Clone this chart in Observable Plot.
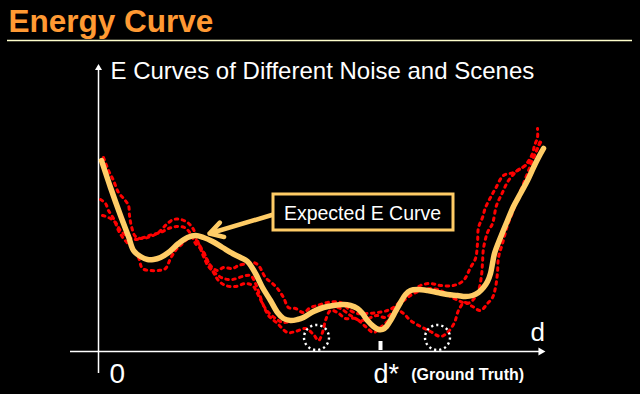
<!DOCTYPE html>
<html>
<head>
<meta charset="utf-8">
<script src="https://cdn.jsdelivr.net/npm/d3@7"></script>
<script src="https://cdn.jsdelivr.net/npm/@observablehq/plot@0.6"></script>
<style>
  html, body { margin: 0; padding: 0; background: #000; }
</style>
</head>
<body>
<script>
// ---- Data (d = disparity position, E = energy) ----
const expectedCurve = [[1,191],[10,164],[20,136],[28,115],[33,101],[40,95],[47,92],[53,92],[60,94],[68,99],[78,108],[87,114],[95,116],[103,114],[112,110],[122,104],[132,98],[140,94],[147,90],[155,78],[162,64],[170,51],[177,39],[183,33],[190,31],[197,32],[203,34],[213,40],[223,44],[233,46],[243,47],[250,46],[257,43],[262,38],[267,31],[273,25],[278,22],[282,22],[286,25],[290,31],[295,40],[300,49],[305,57],[310,61],[317,62],[327,61],[337,59],[347,57],[357,56],[365,55],[372,56],[378,59],[383,64],[387,70],[390,78],[392,88],[394,98],[400,114],[407,131],[413,145],[420,158],[427,171],[433,184],[438,194],[443,203]];

const noisyCurve1 = [[3,194],[8,181],[13,171],[18,159],[24,152],[28,146],[29,136],[31,125],[35,115],[42,113],[50,115],[58,119],[66,127],[73,132],[80,132],[87,129],[93,122],[98,108],[103,95],[108,85],[115,78],[123,73],[132,72],[142,75],[150,76],[155,68],[159,57],[163,46],[168,36],[177,28],[187,19],[195,20],[205,23],[213,17],[218,11],[222,19],[225,31],[230,41],[237,39],[245,33],[255,33],[265,25],[273,19],[280,24],[290,33],[297,41],[303,38],[310,31],[320,25],[330,20],[340,15],[347,19],[354,29],[358,41],[364,49],[372,45],[380,41],[387,48],[392,54],[395,64],[397,79],[398,94],[402,108],[407,126],[412,139],[417,153],[423,168],[430,186],[436,201],[440,211]];

const noisyCurve2 = [[0,152],[5,148],[8,141],[13,133],[18,121],[23,113],[32,103],[38,94],[42,83],[50,81],[58,81],[65,83],[70,93],[75,101],[80,106],[85,111],[92,115],[98,108],[103,99],[110,86],[117,81],[123,84],[132,83],[138,86],[147,88],[153,89],[158,86],[165,74],[172,68],[177,63],[183,54],[188,44],[195,43],[203,39],[210,44],[217,46],[227,49],[240,49],[250,41],[257,38],[267,38],[277,39],[287,41],[293,44],[303,53],[310,58],[320,66],[330,68],[340,66],[353,66],[363,71],[370,84],[375,93],[377,108],[378,124],[382,134],[385,144],[390,154],[395,163],[403,176],[413,179],[422,184],[427,189],[432,198],[434,206],[437,214],[437,223]];

const noisyCurve3 = [[2,136],[8,134],[15,129],[20,121],[27,115],[35,112],[43,114],[52,117],[60,119],[68,123],[76,125],[84,124],[90,118],[95,108],[102,101],[108,89],[113,79],[118,71],[125,66],[135,65],[145,68],[152,66],[158,56],[163,46],[168,39],[175,33],[183,29],[192,31],[200,33],[210,38],[220,43],[230,45],[240,43],[250,36],[260,31],[268,33],[276,36],[285,34],[292,39],[300,48],[310,56],[320,61],[330,63],[340,61],[350,55],[358,51],[366,48],[372,51],[378,61],[381,76],[382,89],[383,103],[387,119],[392,128],[396,146],[402,159],[408,171],[417,181],[425,186],[432,193],[437,203],[441,211]];

const noisyCurves = [noisyCurve1, noisyCurve2, noisyCurve3];

// local minima highlighted by dotted circles
const falseMinima = [[216,14],[337,14]];
// ground-truth position
const groundTruthD = 280;

// labels
const titleText = "Energy Curve";
const headerText = "E Curves of Different Noise and Scenes";
const boxLabel = "Expected E Curve";
const originLabel = "0";
const gtLabel = "d*";
const gtNote = "(Ground Truth)";
const axisLabel = "d";

// ---- Build ----
const font = "'Liberation Sans', Arial, Helvetica, sans-serif";
const orange = "#FFCC66";
const red = "#FF0000";

const noisyRows = noisyCurves.flatMap((c, i) => c.map(([d, E]) => ({d, E, s: i})));
const expectedRows = expectedCurve.map(([d, E]) => ({d, E}));

const chart = Plot.plot({
  width: 640,
  height: 394,
  margin: 0,
  x: {domain: [-100, 540], range: [0, 640], axis: null},
  y: {domain: [-43, 351], range: [394, 0], axis: null},
  style: {background: "#000", fontFamily: font, overflow: "visible"},
  marks: [
    // title and rule
    Plot.text([titleText], {x: -92, y: 320, text: d => d, textAnchor: "start", lineAnchor: "bottom",
      fill: "#FF9933", fontSize: 31.5, fontWeight: "bold"}),
    Plot.ruleY([311], {x1: -93, x2: 532, stroke: "#FFFFCC", strokeWidth: 1.5}),

    // axes
    Plot.ruleY([0], {x1: -30, x2: 441, stroke: "#fff", strokeWidth: 1.5}),
    Plot.dot([[440.3, 0]], {x: d => d[0], y: d => d[1], symbol: "triangle", r: 3, rotate: 90, fill: "#fff"}),
    Plot.ruleX([-2], {y1: -22, y2: 284, stroke: "#fff", strokeWidth: 1.5}),
    Plot.dot([[-2, 283.5]], {x: d => d[0], y: d => d[1], symbol: "triangle", r: 2.6, fill: "#fff"}),

    // header text
    Plot.text([headerText], {x: 10, y: 272.5, text: d => d, textAnchor: "start", lineAnchor: "bottom",
      fill: "#fff", fontSize: 24}),

    // noisy curves
    Plot.line(noisyRows, {x: "d", y: "E", z: "s", stroke: red, strokeWidth: 3,
      strokeDasharray: "2.5 4.5", curve: "catmull-rom"}),

    // expected curve
    Plot.line(expectedRows, {x: "d", y: "E", stroke: orange, strokeWidth: 5.5, curve: "catmull-rom",
      strokeLinecap: "round"}),

    // dotted circles around false minima
    Plot.dot(falseMinima, {x: d => d[0], y: d => d[1], r: 12.5, stroke: "#fff", strokeWidth: 2.4,
      strokeDasharray: "2.2 3", fill: "none"}),

    // ground-truth tick
    Plot.ruleX([groundTruthD], {y1: 1, y2: 10, stroke: "#fff", strokeWidth: 4}),

    // annotation box and arrow
    Plot.arrow([{x1: 173, y1: 137, x2: 109, y2: 118}], {x1: "x1", y1: "y1", x2: "x2", y2: "y2",
      stroke: orange, strokeWidth: 4.5, headLength: 5, headAngle: 60, strokeLinejoin: "miter"}),
    Plot.rect([{x1: 173, x2: 353, y1: 121, y2: 157}], {x1: "x1", x2: "x2", y1: "y1", y2: "y2",
      fill: "#000", stroke: orange, strokeWidth: 3}),
    Plot.text([boxLabel], {x: 262, y: 132, text: d => d, textAnchor: "middle", lineAnchor: "bottom",
      fill: "#fff", fontSize: 19.5}),

    // axis labels
    Plot.text([originLabel], {x: 16.7, y: -31, text: d => d, textAnchor: "middle", lineAnchor: "bottom",
      fill: "#fff", fontSize: 28}),
    Plot.text([gtLabel], {x: 273, y: -31, text: d => d, textAnchor: "start", lineAnchor: "bottom",
      fill: "#fff", fontSize: 27}),
    Plot.text([gtNote], {x: 310.7, y: -28, text: d => d, textAnchor: "start", lineAnchor: "bottom",
      fill: "#fff", fontSize: 16, fontWeight: "bold"}),
    Plot.text([axisLabel], {x: 430, y: 10.3, text: d => d, textAnchor: "start", lineAnchor: "bottom",
      fill: "#fff", fontSize: 26})
  ]
});

document.body.appendChild(chart);
</script>
</body>
</html>
